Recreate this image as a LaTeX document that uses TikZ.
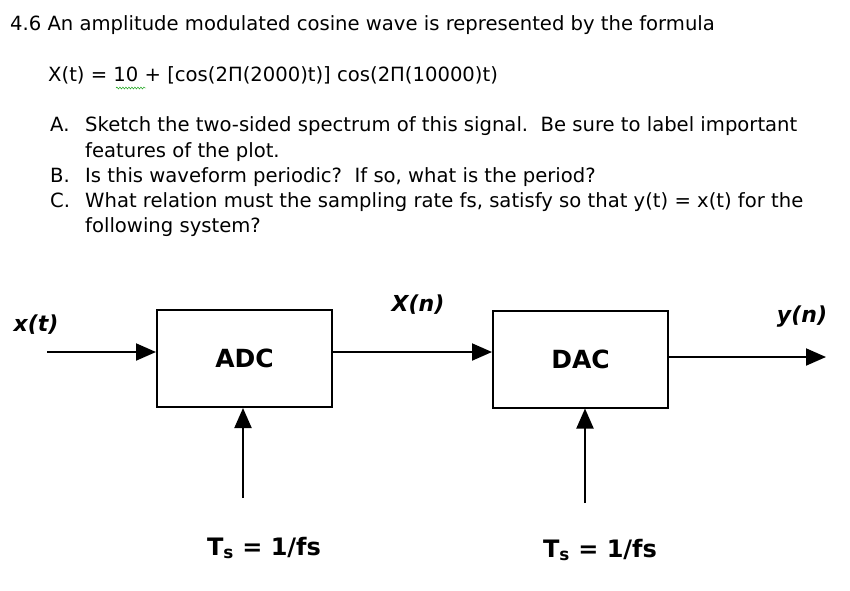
\documentclass[tikz,border=0pt]{standalone}
\usepackage{fontspec}
\setmainfont{DejaVu Sans}
\usetikzlibrary{arrows.meta,decorations.pathmorphing}
\begin{document}
\begin{tikzpicture}[x=1pt,y=-1pt,
  txt/.style={anchor=base west,inner sep=0pt,font=\fontsize{19.6}{23}\selectfont},
  lbl/.style={inner sep=0pt,font=\fontsize{24}{28}\selectfont\bfseries},
  ilbl/.style={inner sep=0pt,font=\fontsize{22}{26}\selectfont\bfseries\itshape},
  blk/.style={draw,line width=2pt,minimum width=175pt,minimum height=97pt,font=\fontsize{25}{30}\selectfont\bfseries},
  arr/.style={line width=2pt,-{Triangle[length=20pt,width=17pt]}}]
\useasboundingbox (0,0) rectangle (850,590);
\node[txt] (t1) at (10,30) {4.6 An amplitude modulated cosine wave is represented by the formula};
\node[txt] (t2) at (48,81) {X(t) = 10 + [cos(2Π(2000)t)] cos(2Π(10000)t)};
\draw[green!60!black,decorate,decoration={snake,amplitude=1pt,segment length=3pt}] (116,88) -- (146,88);
\node[txt] (a1) at (50,131) {A.};
\node[txt] (a2) at (85,131) {Sketch the two-sided spectrum of this signal.\ \ Be sure to label important};
\node[txt] (a3) at (85,157) {features of the plot.};
\node[txt] (b1) at (50,182) {B.};
\node[txt] (b2) at (85,182) {Is this waveform periodic?\ \ If so, what is the period?};
\node[txt] (c1) at (50,207) {C.};
\node[txt] (c2) at (85,207) {What relation must the sampling rate fs, satisfy so that y(t) = x(t) for the};
\node[txt] (c3) at (85,232) {following system?};
\node[blk] (adc) at (244.5,358.5) {ADC};
\node[blk] (dac) at (580.5,359) {DAC};
\coordinate (in) at (47,352);
\coordinate (out) at (826,357);
\coordinate (ts1b) at (243,498);
\coordinate (ts2b) at (585,503);
\draw[arr] (in) -- (adc.west |- in);
\draw[arr] (adc.east |- in) -- (dac.west |- in);
\draw[arr] (dac.east |- out) -- (out);
\draw[arr] (ts1b) -- (ts1b |- adc.south);
\draw[arr] (ts2b) -- (ts2b |- dac.south);
\node[ilbl] (xt) at (36,325) {x(t)};
\node[ilbl] (xn) at (418,305) {X(n)};
\node[ilbl] (yn) at (802,317) {y(n)};
\node[lbl] (ts1) at (264,548) {T\textsubscript{s} = 1/fs};
\node[lbl] (ts2) at (600,550) {T\textsubscript{s} = 1/fs};
\end{tikzpicture}
\end{document}
